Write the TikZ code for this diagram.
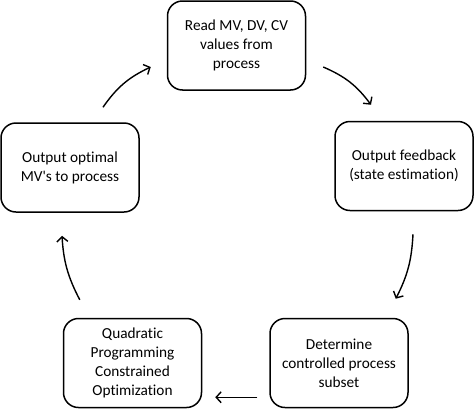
\documentclass[tikz,border=0pt]{standalone}
\usepackage{fontspec}
\setmainfont{Carlito}[Ligatures={NoCommon}]
\usetikzlibrary{arrows.meta}
\tikzset{
  stage/.style={draw, line width=1.5pt, rounded corners=15pt, align=center,
    minimum width=138pt, minimum height=89pt, inner sep=2pt,
    font=\fontsize{15.3}{19}\selectfont},
  cyc/.style={line width=1.4pt, -{Straight Barb[length=5pt,width=11pt]}}
}
\begin{document}
\begin{tikzpicture}[x=1pt, y=-1pt]
  \useasboundingbox (0,0) rectangle (474,410);
  \node[stage] (read) at (236.5,45.5) {Read MV, DV, CV\\values from\\process};
  \node[stage] (feedback) at (404,166) {Output feedback\\(state estimation)};
  \node[stage] (det) at (339,363) {Determine\\controlled process\\subset};
  \node[stage] (qp) at (132.5,363) {Quadratic\\Programming\\Constrained\\Optimization};
  \node[stage] (out) at (70,167.5) {Output optimal\\MV\textquotesingle s to process};
  % cycle arrows
  \draw[cyc] ([shift={(33,-15)}]out.north) to[bend left=15] ([shift={(-16,21.5)}]read.west);
  \draw[cyc] ([shift={(17,21.5)}]read.east) to[bend left=15] ([shift={(-33,-16)}]feedback.north);
  \draw[cyc] ([shift={(9,23)}]feedback.south) to[bend left=12] ([shift={(-13,-19)}]det.north east);
  \draw[cyc] ([shift={(-12,-11)}]det.south west) to ([shift={(13,-11)}]qp.south east);
  \draw[cyc] ([shift={(17,-18)}]qp.north west) to[bend left=12] ([shift={(-8,23)}]out.south);
\end{tikzpicture}
\end{document}
